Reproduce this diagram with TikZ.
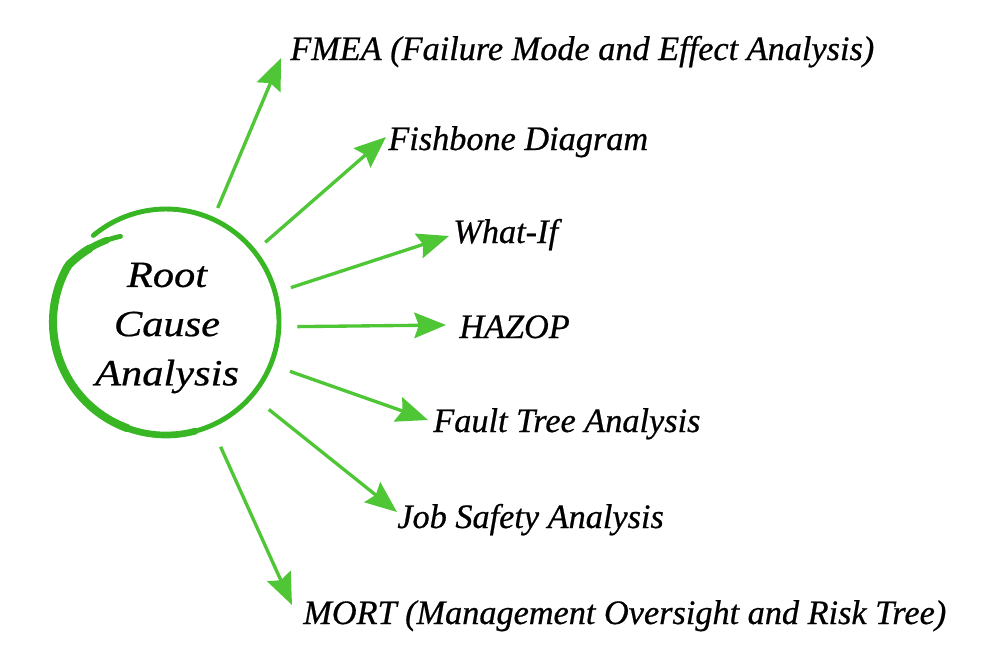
\documentclass[tikz,border=0pt]{standalone}
\usepackage{fontspec}
\setmainfont[FakeBold=0.6]{Liberation Serif}
\newfontfamily\hubfont[FakeStretch=1.15, FakeBold=0.6]{Liberation Serif}
\usetikzlibrary{arrows.meta, shapes.geometric}
\definecolor{rcagreen}{RGB}{78,198,54}
\definecolor{ringgreen}{RGB}{56,182,36}

\begin{document}
\begin{tikzpicture}[
      x=0.02cm, y=-0.02cm,
      hub/.style={circle, minimum size=4.6cm, inner sep=0pt, align=center, font=\hubfont\itshape\fontsize{21}{28}\selectfont},
      method/.style={anchor=base west, inner sep=0pt, font=\itshape\fontsize{19.5}{24}\selectfont},
      ring/.style={draw=ringgreen, line cap=round},
      arrow/.style={-{Stealth[length=18pt, width=14.5pt, inset=2.5pt]}, draw=rcagreen, fill=rcagreen, line width=1.9pt, shorten <=0.3cm}
    ]
    \useasboundingbox (0,0) rectangle (1000,664);

    % Centro
    \node[hub] (rca) at (167,328) {Root\\Cause\\Analysis};

    % Anel pincelado
    \draw[ring, line width=2.8pt] plot[domain=130:-242, samples=180, smooth, variable=\t]
      ({166+(113-0.5*max(0,-210-(\t)))*cos(\t)}, {322-(113-0.5*max(0,-210-(\t)))*sin(\t)});
    \draw[ring, line width=3.8pt] plot[domain=-75:-234, samples=80, smooth, variable=\t]
      ({166+(113-0.5*max(0,-210-(\t)))*cos(\t)}, {322-(113-0.5*max(0,-210-(\t)))*sin(\t)});
    \draw[ring, line width=4.6pt] plot[domain=-110:-224, samples=60, smooth, variable=\t]
      ({166+(113-0.5*max(0,-210-(\t)))*cos(\t)}, {322-(113-0.5*max(0,-210-(\t)))*sin(\t)});

    % Metodos
    \node[method] (fmea) at (290,60) {FMEA (Failure Mode and Effect Analysis)};
    \node[method] (fish) at (388,150) {Fishbone Diagram};
    \node[method] (whatif) at (453,243) {What-If};
    \node[method] (hazop) at (459,338) {HAZOP};
    \node[method] (fta) at (433,432) {Fault Tree Analysis};
    \node[method] (jsa) at (397,528) {Job Safety Analysis};
    \node[method] (mort) at (303,624) {MORT (Management Oversight and Risk Tree)};

    % Setas
    \draw[arrow] (rca) -- ([shift={(-9,-2)}]fmea.base west);
    \draw[arrow] (rca) -- ([shift={(-2,-13)}]fish.base west);
    \draw[arrow] (rca) -- ([shift={(-4,-7)}]whatif.base west);
    \draw[arrow] (rca) -- ([shift={(-13,-13)}]hazop.base west);
    \draw[arrow] (rca) -- ([shift={(-5,-12)}]fta.base west);
    \draw[arrow] (rca) -- ([shift={(0,-16)}]jsa.base west);
    \draw[arrow] (rca) -- ([shift={(-11,-19)}]mort.base west);

    \end{tikzpicture}
\end{document}
